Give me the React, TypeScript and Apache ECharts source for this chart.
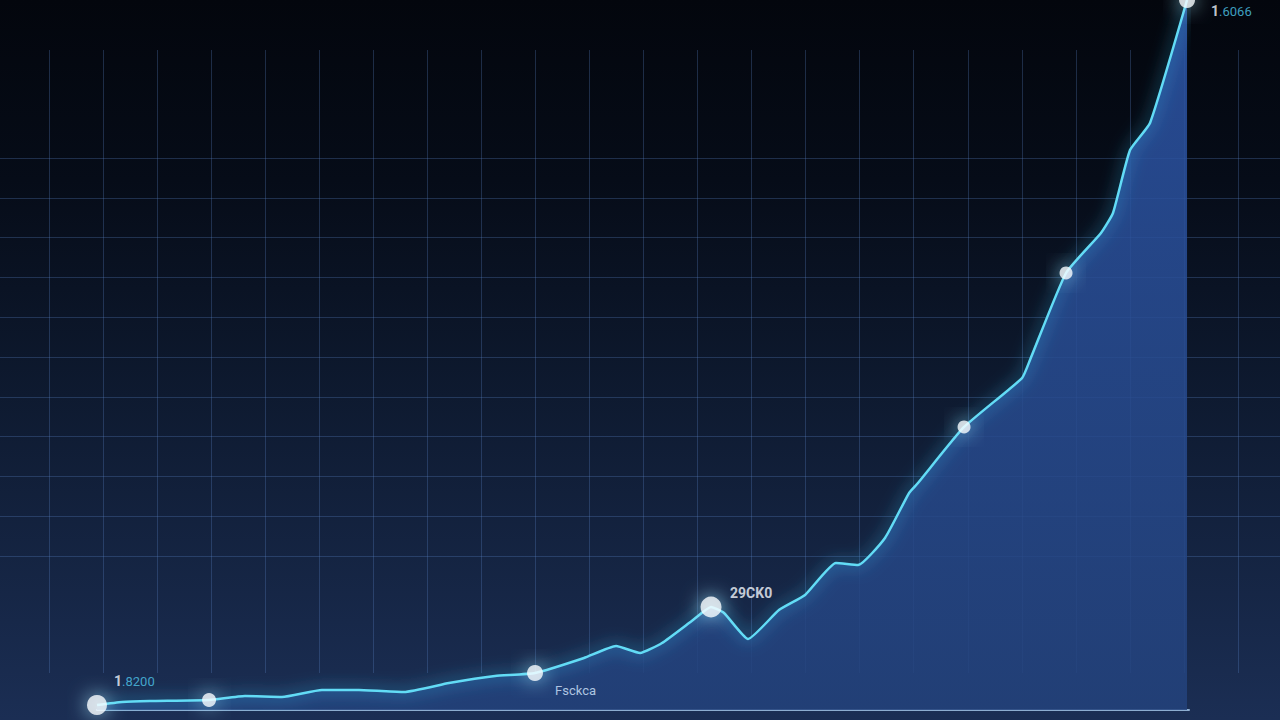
import React, { useEffect, useRef } from "react";
import * as echarts from "echarts";

// Time position of each point (0..100 across the plot) and its value (0..100)
const xPos = [
  0, 2.29, 4.85, 10.26, 13.55, 16.94, 20.6, 23.99, 28.11, 32.23, 36.45, 40.11,
  44.6, 47.53, 49.73, 51.74, 54.58, 56.23, 57.42, 59.62, 62.45, 64.84, 67.67,
  69.69, 72.16, 74.36, 75.18, 79.4, 84.71, 85.44, 88.74, 91.94, 93.04, 94.6,
  96.43, 99.82,
];
const yVal = [
  0.7, 1.13, 1.27, 1.41, 1.97, 1.83, 2.82, 2.82, 2.54, 3.8, 4.79, 5.21, 7.32,
  9.01, 8.03, 9.44, 12.68, 14.51, 13.66, 10.0, 14.08, 16.2, 20.7, 20.42, 24.23,
  30.56, 31.97, 39.86, 46.76, 49.3, 61.55, 67.18, 70.0, 78.87, 82.68, 100,
];
// Highlighted points (indices into the arrays above)
const markerIdx = [0, 3, 11, 17, 27, 30, 35];
// Text shown next to some highlighted points
const markerText: Record<number, string> = {
  0: "{w|1}{c|.8200}",
  11: "{l|Fsckca}",
  17: "{b|29CK0}",
  35: "{w|1}{c|.6066}",
};

export default function App() {
  const ref = useRef<HTMLDivElement>(null);

  useEffect(() => {
    if (!ref.current) return;
    const chart = echarts.init(ref.current, undefined, { renderer: "svg" });

    const sizes: Record<number, number> = {
      0: 20, 3: 14, 11: 16, 17: 21, 27: 13, 30: 13, 35: 16,
    };
    const labelOffsets: Record<number, [number, number]> = {
      0: [17, -24],
      11: [20, 17],
      17: [19, -14],
      35: [24, 11],
    };
    const rich = {
      w: { color: "#f2f7ff", fontSize: 14, fontFamily: "Roboto", fontWeight: "bold" },
      c: { color: "#4fc6ea", fontSize: 13, fontFamily: "Roboto" },
      l: { color: "#d4e8ff", fontSize: 13, fontFamily: "Roboto" },
      b: { color: "#f4f8ff", fontSize: 14, fontFamily: "Roboto", fontWeight: "bold" },
    };

    const lineData = xPos.map((x, i) => [x, yVal[i]]);
    const markerData = markerIdx.map((i) => {
      const item: any = { value: [xPos[i], yVal[i]], symbolSize: sizes[i] };
      if (markerText[i]) {
        item.label = {
          show: true,
          position: "inside",
          align: "left",
          verticalAlign: "middle",
          offset: labelOffsets[i],
          formatter: markerText[i],
          rich,
        };
      }
      return item;
    });

    const gridLine = { color: "rgba(90,130,195,0.3)", width: 1 };

    chart.setOption({
      animation: false,
      backgroundColor: new echarts.graphic.LinearGradient(0, 0, 0, 1, [
        { offset: 0, color: "#03060d" },
        { offset: 0.25, color: "#060c18" },
        { offset: 0.55, color: "#0e1a30" },
        { offset: 1, color: "#1b2e54" },
      ]),
      grid: [
        { left: 49, width: 1189, top: 50, height: 623 },
        { left: 0, width: 1280, top: 158, height: 398 },
        { left: 97, width: 1092, top: 0, height: 710 },
      ],
      xAxis: [
        {
          gridIndex: 0, type: "value", min: 0, max: 22, interval: 1,
          axisLine: { show: false }, axisTick: { show: false }, axisLabel: { show: false },
          splitLine: { show: true, lineStyle: gridLine },
        },
        {
          gridIndex: 1, type: "value", min: 0, max: 1, show: false,
          splitLine: { show: false },
        },
        {
          gridIndex: 2, type: "value", min: 0, max: 100,
          axisLine: { show: true, onZero: false, lineStyle: { color: "rgba(170,205,240,0.8)", width: 2 } },
          axisTick: { show: false }, axisLabel: { show: false }, splitLine: { show: false },
        },
      ],
      yAxis: [
        {
          gridIndex: 0, type: "value", min: 0, max: 1, show: false,
          splitLine: { show: false },
        },
        {
          gridIndex: 1, type: "value", min: 0, max: 10, interval: 1,
          axisLine: { show: false }, axisTick: { show: false }, axisLabel: { show: false },
          splitLine: { show: true, lineStyle: gridLine },
        },
        {
          gridIndex: 2, type: "value", min: 0, max: 100, show: false,
          splitLine: { show: false },
        },
      ],
      series: [
        {
          type: "line",
          xAxisIndex: 2,
          yAxisIndex: 2,
          data: lineData,
          showSymbol: false,
          smooth: 0.15,
          z: 3,
          lineStyle: {
            color: "#62dcf6",
            width: 2.5,
            shadowBlur: 16,
            shadowColor: "rgba(60,205,255,1)",
          },
          areaStyle: {
            opacity: 0.85,
            color: new echarts.graphic.LinearGradient(0, 0, 0, 1, [
              { offset: 0, color: "#2d56aa" },
              { offset: 0.5, color: "#284c92" },
              { offset: 1, color: "#23427c" },
            ]),
          },
        },
        {
          type: "scatter",
          xAxisIndex: 2,
          yAxisIndex: 2,
          data: markerData,
          z: 5,
          itemStyle: {
            color: "#f8fdff",
            shadowBlur: 20,
            shadowColor: "rgba(170,235,255,1)",
          },
        },
      ],
    });

    return () => chart.dispose();
  }, []);

  return (
    <div
      ref={ref}
      style={{ position: "fixed", left: 0, top: 0, width: 1280, height: 720 }}
    />
  );
}
